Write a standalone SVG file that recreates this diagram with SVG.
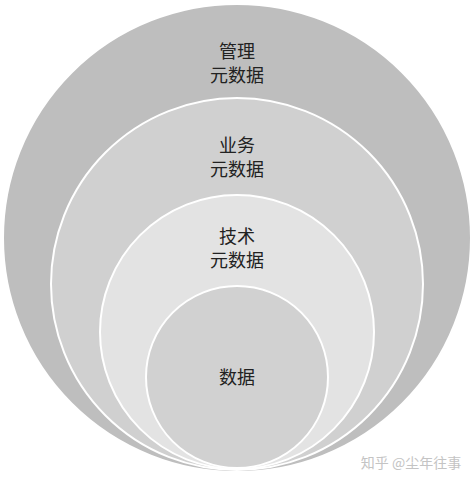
<svg xmlns="http://www.w3.org/2000/svg" width="474" height="479" viewBox="0 0 474 479">
<style>
.c{stroke:#ffffff;stroke-width:2}
.t{font-family:"Noto Sans CJK SC","Noto Sans",sans-serif;font-size:18px;fill:#222222;text-anchor:middle;dominant-baseline:central}
.w{font-family:"Noto Sans CJK SC","Noto Sans",sans-serif;font-size:14px;fill:#c4c4c4;text-anchor:middle;dominant-baseline:central}
</style>
<rect width="474" height="479" fill="#ffffff"/>
<g id="management">
<circle class="c" cx="237" cy="238" r="234" fill="#bebebe"/>
<text class="t" x="237" y="50">管理</text>
<text class="t" x="237" y="74">元数据</text>
</g>
<g id="business">
<circle class="c" cx="237" cy="284" r="186" fill="#d0d0d0"/>
<text class="t" x="237" y="144">业务</text>
<text class="t" x="237" y="168">元数据</text>
</g>
<g id="technical">
<circle class="c" cx="237" cy="332" r="137" fill="#e3e3e3"/>
<text class="t" x="237" y="235">技术</text>
<text class="t" x="237" y="259">元数据</text>
</g>
<g id="data">
<circle class="c" cx="237" cy="377" r="91" fill="#d1d1d1"/>
<text class="t" x="237" y="376">数据</text>
</g>
<g id="connectors"/>
<text class="w" x="411" y="462">知乎 @尘年往事</text>
</svg>
